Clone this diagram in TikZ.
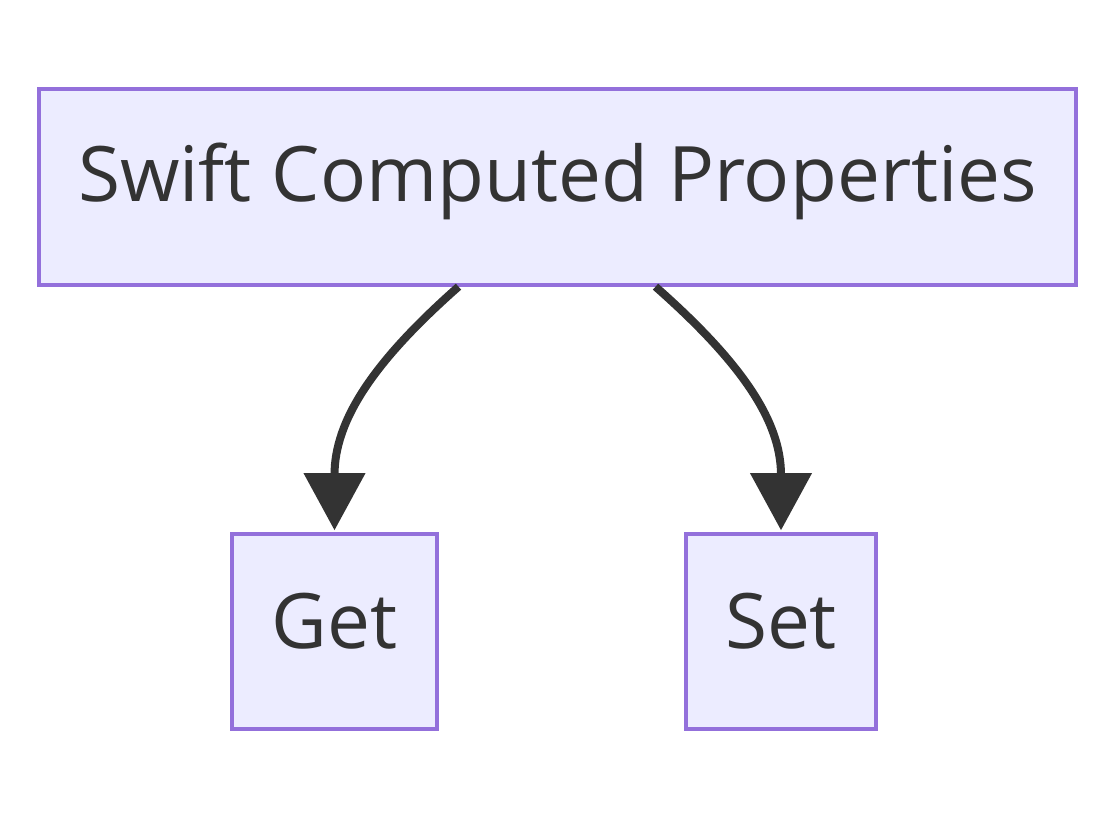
\documentclass[tikz,border=0pt]{standalone}
\usepackage{fontspec}
\setmainfont{Open Sans}
\usetikzlibrary{arrows.meta,calc}
\definecolor{nodefill}{HTML}{ECECFF}
\definecolor{nodeline}{HTML}{9370DB}
\definecolor{ink}{HTML}{333333}
\newcommand{\liftlabel}[2][8pt]{\raisebox{#1}[\height][\depth]{#2}}
\begin{document}
\begin{tikzpicture}[x=0.75pt,y=-0.75pt,
  box/.style={draw=nodeline,fill=nodefill,line width=2.5pt,inner sep=0pt,
    text=ink,font=\fontsize{57.4pt}{66pt}\selectfont},
  link/.style={draw=ink,line width=6pt,-{Triangle[length=43pt,width=45pt]}}]
\useasboundingbox (0,0) rectangle (1116,819);
\node[box,minimum width=777.75pt,minimum height=147pt] (top) at (557.5,187) {\liftlabel[4.5pt]{Swift Computed Properties}};
\node[box,minimum width=153.75pt,minimum height=146.25pt] (get) at (334.5,631.5) {\liftlabel{Get}};
\node[box,minimum width=142.5pt,minimum height=146.25pt] (set) at (781,631.5) {\liftlabel{Set}};
\draw[link] ($(top.south)+(-99,0)$) .. controls +(-85,75) and +(0,-110) .. ($(get.north)+(0,-2)$);
\draw[link] ($(top.south)+(98,0)$) .. controls +(85,75) and +(0,-110) .. ($(set.north)+(0,-2)$);
\end{tikzpicture}
\end{document}
